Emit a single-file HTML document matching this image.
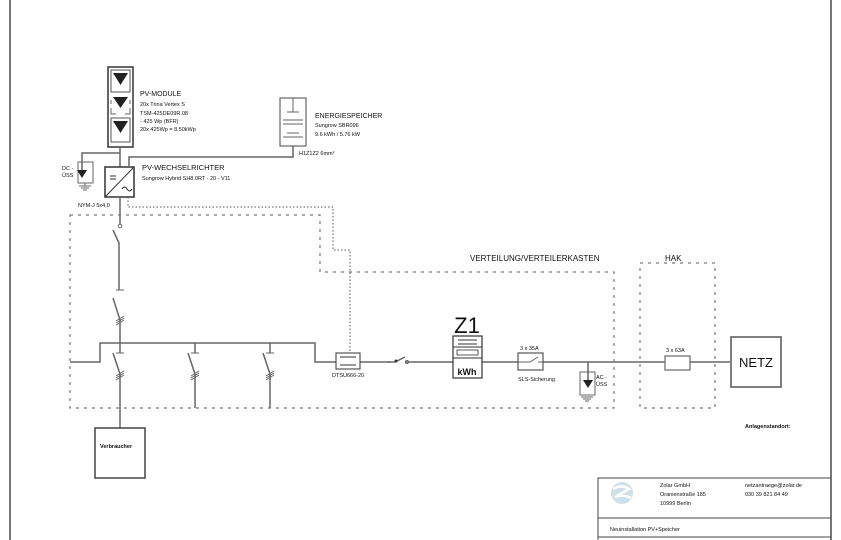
<!DOCTYPE html>
<html><head><meta charset="utf-8"><style>
html,body{margin:0;padding:0;background:#fff}
svg{display:block}
text{font-family:"Liberation Sans",Arial,sans-serif;fill:#111}
</style></head><body>
<svg width="841" height="540" viewBox="0 0 841 540" xmlns="http://www.w3.org/2000/svg">
<rect width="841" height="540" fill="#fff"/>
<line x1="10" y1="0" x2="10" y2="540" stroke="#777" stroke-width="2"/>
<line x1="831" y1="0" x2="831" y2="540" stroke="#777" stroke-width="2"/>

<g fill="none" stroke="#666" stroke-width="1.5">
<!-- PV module box -->
<rect x="108" y="67" width="25" height="80" stroke="#333"/>
<rect x="111" y="70" width="19" height="22" stroke="#555" stroke-width="1"/>
<rect x="111" y="118" width="19" height="24" stroke="#555" stroke-width="1"/>
<path d="M111 100 v4 M130 100 v4 M111 108 v6 h5 M130 108 v6 h-5" stroke-width="1"/>
<!-- main vertical -->
<line x1="120" y1="147" x2="120" y2="167"/>
<!-- DC ÜSS -->
<path d="M120 153 H82 V170"/>
<rect x="78" y="162" width="15" height="21" stroke-width="1"/>
<path d="M79 186 h12 M81 188 h8 M83 190 h4 M85 183 v3" stroke-width="1"/>
<!-- inverter -->
<rect x="105" y="167" width="29" height="30" stroke="#333"/>
<line x1="105" y1="197" x2="134" y2="167" stroke="#333" stroke-width="1"/>
<path d="M110 176 h6 M110 179 h6" stroke="#333" stroke-width="1"/>
<path d="M122 189 q2.5 -4 5 0 q2.5 4 5 0" stroke="#333" stroke-width="1"/>
<!-- battery -->
<rect x="280" y="98" width="26" height="48" stroke-width="1.2"/>
<path d="M293 98 v14 M287 112 h12 M283 124 h20 M287 133 h12 M283 137 h20 M283 120 h20" stroke-width="1"/>
<path d="M293 146 V157 H129 V167"/>
<!-- inverter to switch -->
<line x1="120" y1="197" x2="120" y2="224"/>
<circle cx="120" cy="226" r="1.8" stroke-width="1"/>
<path d="M113 230 L119 243 V290"/>
<path d="M116 290 h8" stroke-width="1"/>
<!-- fault switch upper -->
<path d="M113 298 L120 320 V343"/>
<path d="M116 321 l8 -5 M116 323 l8 -5 M116 325 l8 -5" stroke-width="1"/>
<path d="M116 353 h8" stroke-width="1"/>
<!-- busbar -->
<path d="M70 362 H100 V343 H315 V362 H730"/>
<line x1="120" y1="343" x2="120" y2="353"/>
<line x1="195" y1="343" x2="195" y2="353"/>
<line x1="270" y1="343" x2="270" y2="353"/>
<path d="M191 353 h8 M266 353 h8" stroke-width="1"/>
<path d="M113 353 L120 374 V428 M188 353 L195 374 V408 M263 353 L270 374 V408"/>
<path d="M116 376 l8 -5 M116 378 l8 -5 M116 380 l8 -5 M191 376 l8 -5 M191 378 l8 -5 M191 380 l8 -5 M266 376 l8 -5 M266 378 l8 -5 M266 380 l8 -5" stroke-width="1"/>
<!-- Verbraucher -->
<rect x="95" y="428" width="50" height="50" stroke="#444"/>
<!-- DTSU -->
<rect x="336" y="353" width="24" height="16" fill="#fff" stroke="#333" stroke-width="1"/>
<path d="M340 357 h16 M340 365 h16" stroke="#333" stroke-width="1"/>
<!-- switch after DTSU -->
<rect x="390" y="355" width="20" height="10" fill="#fff" stroke="none"/>
<path d="M388 362 H395 L405 357 M405 362 H410" stroke-width="1.5"/>
<circle cx="396" cy="361" r="1.5" fill="#333" stroke="none"/>
<circle cx="407" cy="362" r="1.5" stroke-width="1"/>
<!-- Z1 meter -->
<rect x="453" y="336" width="29" height="42" fill="#fff" stroke="#333" stroke-width="1.2"/>
<path d="M453 347 h29 M453 358 h29 M458 340 h19 M458 344 h19" stroke="#333" stroke-width="1"/>
<rect x="457" y="350" width="21" height="5" stroke="#333" stroke-width="0.8"/>
<!-- SLS -->
<rect x="518" y="353" width="25" height="17" fill="#fff" stroke="#555" stroke-width="1.2"/>
<path d="M518 362 H530 L538 357 M538 362 H543" stroke-width="1"/>
<!-- AC ÜSS -->
<line x1="588" y1="362" x2="588" y2="380"/>
<rect x="580" y="372" width="15" height="23" stroke-width="1"/>
<path d="M581 397 h12 M583 399 h8 M585 401 h4" stroke-width="1"/>
<!-- 3x63 fuse -->
<rect x="665" y="356" width="25" height="14" fill="#fff" stroke-width="1.2"/>
<!-- NETZ -->
<rect x="731" y="337" width="50" height="50" stroke="#555"/>
</g>
<!-- triangles -->
<g fill="#222">
<polygon points="113,73 128,73 120.5,85"/>
<polygon points="113,97 128,97 120.5,108"/>
<polygon points="113,121 128,121 120.5,133"/>
<polygon points="77,170 87,170 82,178"/>
<polygon points="583,380 593,380 588,388"/>
</g>
<!-- dashed regions -->
<g fill="none" stroke="#777" stroke-width="1.2" stroke-dasharray="3,5">
<path d="M70 215 H320 V272 H614 V408 H70 Z"/>
<rect x="640" y="263" width="75" height="145"/>
</g>
<g fill="none" stroke="#555" stroke-width="1" stroke-dasharray="1.5,2">
<path d="M128 197 V207 H333 V250 H350 V353"/>
</g>
<!-- texts -->
<text x="140" y="96" font-size="7">PV-MODULE</text>
<text x="140" y="106" font-size="5.5">20x Trina Vertex S</text>
<text x="140" y="115" font-size="5.5">TSM-425DE09R.08</text>
<text x="140" y="123" font-size="5.5">- 425 Wp (BFR)</text>
<text x="140" y="131" font-size="5.5">20x 425Wp = 8.50kWp</text>
<text x="315" y="118" font-size="7">ENERGIESPEICHER</text>
<text x="315" y="127" font-size="5.5">Sungrow SBR096</text>
<text x="315" y="136" font-size="5.5">9.6 kWh / 5.76 kW</text>
<text x="299" y="155" font-size="5.5">H1Z1Z2 6mm²</text>
<text x="142" y="170" font-size="7.5">PV-WECHSELRICHTER</text>
<text x="142" y="180" font-size="5.5">Sungrow Hybrid SH8.0RT - 20 - V11</text>
<text x="62" y="170" font-size="5.5">DC -</text>
<text x="62" y="177" font-size="5.5">ÜSS</text>
<text x="78" y="207" font-size="5.5">NYM-J 5x4,0</text>
<text x="470" y="261" font-size="8">VERTEILUNG/VERTEILERKASTEN</text>
<text x="665" y="261" font-size="8">HAK</text>
<text x="332" y="377" font-size="5.5">DTSU666-20</text>
<text x="467" y="333" font-size="22" text-anchor="middle">Z1</text>
<text x="467" y="375" font-size="9" font-weight="bold" text-anchor="middle">kWh</text>
<text x="520" y="350" font-size="5.5">3 x 35A</text>
<text x="518" y="381" font-size="5.5">SLS-Sicherung</text>
<text x="596" y="379" font-size="5.5">AC -</text>
<text x="596" y="386" font-size="5.5">ÜSS</text>
<text x="666" y="352" font-size="5.5">3 x 63A</text>
<text x="756" y="367" font-size="13" text-anchor="middle">NETZ</text>
<text x="100" y="448" font-size="5.5" font-weight="bold">Verbraucher</text>
<text x="745" y="428" font-size="5.5" font-weight="bold">Anlagenstandort:</text>
<!-- title block -->
<g fill="none" stroke="#444" stroke-width="1">
<path d="M598 540 V478 H831 M598 518 H831 M598 537 H831"/>
</g>
<circle cx="622" cy="493" r="11" fill="#cfdfe8"/>
<path d="M613 489 q9 -5 16 0 l-14 8 q8 -3 16 1" fill="none" stroke="#fff" stroke-width="2.5"/>
<text x="660" y="487" font-size="5.5">Zolar GmbH</text>
<text x="660" y="496" font-size="5.5">Oranienstraße 185</text>
<text x="660" y="505" font-size="5.5">10999 Berlin</text>
<text x="745" y="487" font-size="5.5">netzantraege@zolar.de</text>
<text x="745" y="496" font-size="5.5">030 39 821 84 49</text>
<text x="610" y="531" font-size="5.5">Neuinstallation PV+Speicher</text>
</svg>
</body></html>
